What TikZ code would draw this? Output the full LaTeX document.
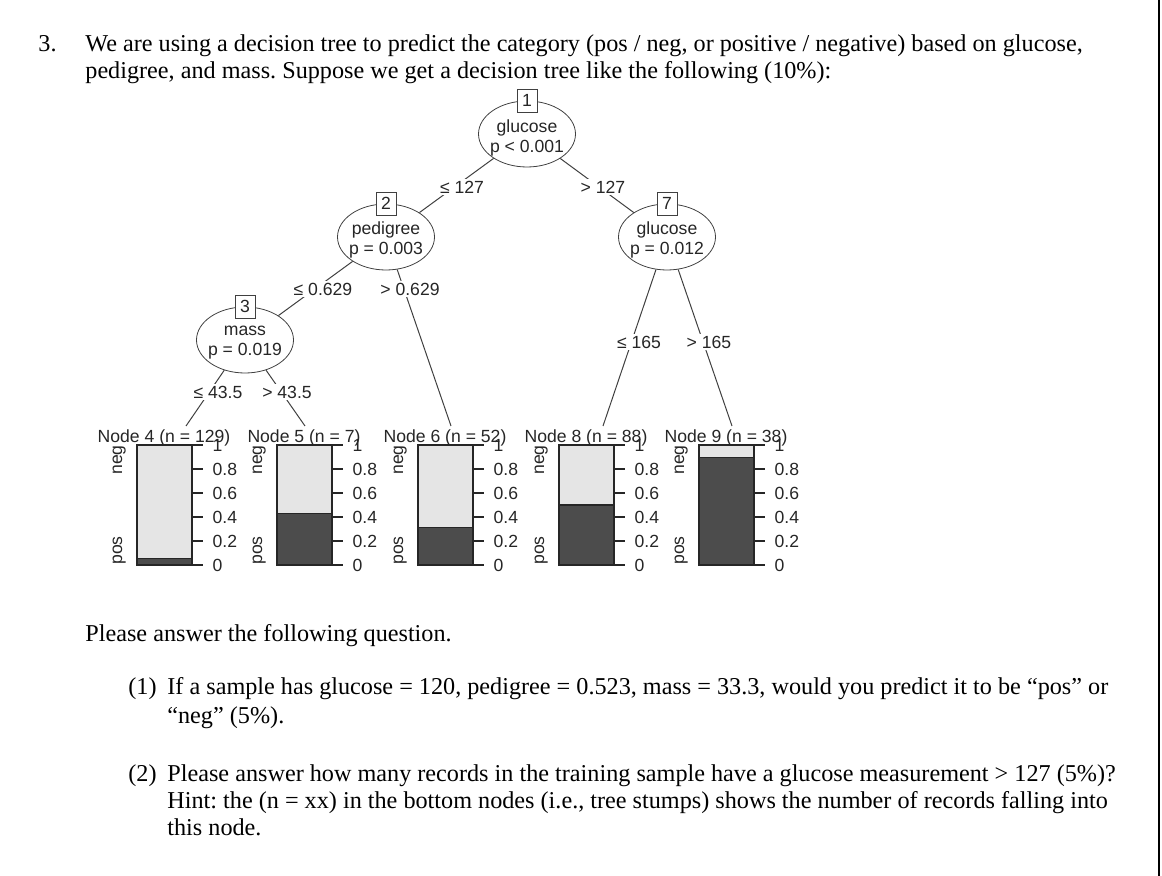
\documentclass[tikz,border=0pt]{standalone}
\usepackage{fontspec}
\setmainfont{Liberation Serif}
\newfontfamily\treefont{Liberation Sans}
\usetikzlibrary{shapes,positioning}
\newcommand{\treesize}{\treefont\fontsize{8.8}{10}\selectfont}
\newcommand{\bodysize}{\fontsize{12.1}{14}\selectfont}
\frenchspacing
\tikzstyle{split}=[ellipse,draw=black!75,inner sep=0pt,minimum width=48.5pt,minimum height=33pt]
\tikzstyle{split text}=[inner sep=0pt,align=center,font=\treesize,text=black!85]
\tikzstyle{idbox}=[rectangle,draw=black!75,fill=white,inner sep=0pt,minimum width=10pt,minimum height=11.5pt,font=\treesize,text=black!85]
\tikzstyle{cut}=[fill=white,inner sep=1pt,font=\treesize,text=black!85]
\tikzstyle{branch}=[draw=black!75,line width=0.5pt]
\tikzstyle{negbar}=[fill=black!10,draw=black!85,line width=0.6pt]
\tikzstyle{posbar}=[fill=black!70,draw=black!85,line width=0.6pt]
\tikzstyle{panel text}=[inner sep=0pt,font=\treesize,text=black!85]
\tikzstyle{body}=[anchor=base west,inner sep=0pt,font=\bodysize]

\begin{document}
\begin{tikzpicture}[x=0.5pt,y=-0.5pt]
  \useasboundingbox (0,0) rectangle (1162,876);
  \draw[line width=0.8pt] (1159,0) -- (1159,876);

  % Question text
  \node[body] (num) at (38,52) {3.};
  \node[body] (introA) at (85,52) {We are using a decision tree to predict the category (pos / neg, or positive / negative) based on glucose,};
  \node[body] (introB) at (85,79) {pedigree, and mass. Suppose we get a decision tree like the following (10\%):};

  % Inner nodes of the tree
  \node[split] (n1) at (527,134) {};
  \node[split] (n2) at (386,237) {};
  \node[split] (n7) at (667,237) {};
  \node[split] (n3) at (245,340) {};

  \node[split text] (n1text) at (527,138) {glucose\\p < 0.001};
  \node[split text] (n2text) at (386,240) {pedigree\\p = 0.003};
  \node[split text] (n7text) at (667,240) {glucose\\p = 0.012};
  \node[split text] (n3text) at (245,343) {mass\\p = 0.019};

  \node[idbox] (id1) at (n1.north) {1};
  \node[idbox] (id2) at (n2.north) {2};
  \node[idbox] (id7) at (n7.north) {7};
  \node[idbox] (id3) at (n3.north) {3};

  % Terminal nodes (bar plots)
  \foreach \id/\xl/\n/\pos/\tx in {4/137/129/0.054/186, 5/277/7/0.43/305,
      6/418/52/0.31/451, 8/559/88/0.5/603, 9/699/38/0.895/732} {
    \coordinate (t\id) at (\tx,426);
    \draw[negbar] (\xl,445) rectangle (\xl+55,565);
    \draw[posbar] (\xl,565) rectangle (\xl+55,565-120*\pos);
    \foreach \v/\lab in {0/0, 1/0.2, 2/0.4, 3/0.6, 4/0.8, 5/1}
      \draw[black!85,line width=0.6pt] (\xl+55,565-24*\v) -- (\xl+66,565-24*\v)
        node[panel text,anchor=west,xshift=4.5pt] (tick\id\v) {\lab};
    \node[panel text,rotate=90,anchor=base east] (neg\id) at (\xl-15,445) {neg};
    \node[panel text,rotate=90,anchor=base west] (pos\id) at (\xl-15,565) {pos};
    \node[panel text,anchor=base] (title\id) at (\xl+27,443) {Node \id{} (n = \n)};
  }

  % Branches
  \draw[branch] (n1) -- (n2);
  \draw[branch] (n1) -- (n7);
  \draw[branch] (n2) -- (n3);
  \draw[branch] (n2) -- (t6);
  \draw[branch] (n3) -- (t4);
  \draw[branch] (n3) -- (t5);
  \draw[branch] (n7) -- (t8);
  \draw[branch] (n7) -- (t9);

  \node[cut] (c12) at (462,187) {≤ 127};
  \node[cut] (c17) at (603,187) {> 127};
  \node[cut] (c23) at (323,289) {≤ 0.629};
  \node[cut] (c26) at (410,289) {> 0.629};
  \node[cut] (c34) at (218,392) {≤ 43.5};
  \node[cut] (c35) at (287,392) {> 43.5};
  \node[cut] (c78) at (639,342) {≤ 165};
  \node[cut] (c79) at (709,342) {> 165};

  % Questions
  \node[body] (ask) at (85,642) {Please answer the following question.};
  \node[body] (q1num) at (128,695) {(1)};
  \node[body] (q1a) at (167,695) {If a sample has glucose = 120, pedigree = 0.523, mass = 33.3, would you predict it to be “pos” or};
  \node[body] (q1b) at (167,723) {“neg” (5\%).};
  \node[body] (q2num) at (128,781) {(2)};
  \node[body] (q2a) at (167,781) {Please answer how many records in the training sample have a glucose measurement > 127 (5\%)?};
  \node[body] (q2b) at (167,808) {Hint: the (n = xx) in the bottom nodes (i.e., tree stumps) shows the number of records falling into};
  \node[body] (q2c) at (167,835) {this node.};
\end{tikzpicture}
\end{document}
